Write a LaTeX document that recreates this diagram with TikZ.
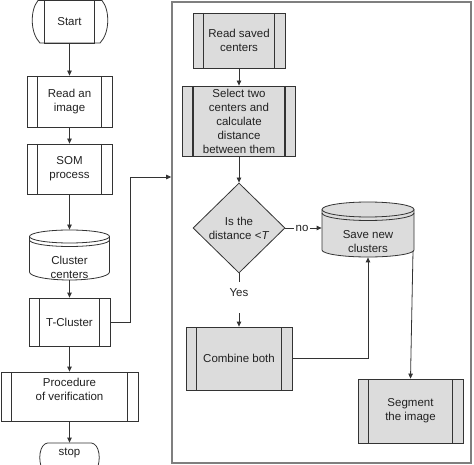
\documentclass[tikz,border=0pt]{standalone}
\usepackage{fontspec}
\setmainfont{Liberation Sans}
\usetikzlibrary{shapes.geometric,arrows.meta}
\definecolor{linec}{HTML}{333333}
\definecolor{boxg}{HTML}{DCDCDC}
\definecolor{framec}{HTML}{7F7F7F}
\definecolor{txt}{HTML}{222222}
\begin{document}
\begin{tikzpicture}[x=1pt,y=-1pt, font=\fontsize{11.5}{14}\selectfont, text=txt,
  line width=0.8pt,
  arr/.style={draw=linec, -{Triangle[length=5pt,width=4.5pt]}},
  plain/.style={draw=linec},
  bars/.style={path picture={\draw[line width=#1]
     ([xshift=10.5pt]path picture bounding box.north west) -- ([xshift=10.5pt]path picture bounding box.south west)
     ([xshift=-10.5pt]path picture bounding box.north east) -- ([xshift=-10.5pt]path picture bounding box.south east);}},
  procw/.style={draw=linec, fill=white, inner sep=0pt, align=center, bars=0.8pt},
  procg/.style={draw=linec, fill=boxg, inner sep=0pt, align=center, bars=1.2pt},
  ghost/.style={inner sep=0pt, align=center},
]
\useasboundingbox (0,0) rectangle (474,465);

% frame
\node[draw=framec, line width=1.6pt, minimum width=299pt, minimum height=461pt, inner sep=0pt] (frame) at (321.5,232.5) {};

% Start
\filldraw[draw=linec, fill=white] (38,0.5) -- (102,0.5) .. controls (110,10) and (110,33) .. (100,43) -- (40,43) .. controls (30,33) and (30,10) .. (38,0.5) -- cycle;
\node[draw=linec, minimum width=50pt, minimum height=42.5pt, inner sep=0pt] (start) at (69.5,21.75) {Start};

% left column
\node[procw, minimum width=85pt, minimum height=51pt] (read) at (69.5,101.5) {Read an\\image};
\node[procw, minimum width=85pt, minimum height=50pt] (som) at (69.5,169) {SOM\\process};

% cluster centers cylinder
\node[ghost, minimum width=80pt, minimum height=50pt] (cc) at (69.5,255) {};
\filldraw[draw=linec, fill=white] (29.5,236.5) -- (29.5,272) arc[start angle=180, end angle=360, x radius=40pt, y radius=8pt] -- (109.5,236.5) arc[start angle=0, end angle=180, x radius=40pt, y radius=6.5pt] -- cycle;
\draw[linec] (29.5,236.5) arc[start angle=180, end angle=360, x radius=40pt, y radius=6.5pt];
\draw[linec] (29.5,240) arc[start angle=180, end angle=360, x radius=40pt, y radius=6.5pt];
\node[ghost] (cctext) at (69.5,267.5) {Cluster\\centers};

\node[procw, minimum width=81pt, minimum height=48pt] (tcl) at (69.5,322) {T-Cluster};
\node[procw, minimum width=137pt, minimum height=49pt] (verif) at (69.5,396.5) {Procedure\\of verification\\ };

% stop
\filldraw[draw=linec, fill=white] (47.5,443) -- (91.5,443) .. controls (99.5,444) and (101.5,460) .. (96.5,470) -- (42.5,470) .. controls (37.5,460) and (39.5,444) .. (47.5,443) -- cycle;
\node[ghost, minimum height=20pt] (stop) at (69.5,453) {stop};

% right column
\node[procg, minimum width=92pt, minimum height=55pt] (rsc) at (239,40.5) {Read saved\\centers};
\node[procg, minimum width=113pt, minimum height=70pt] (sel) at (239,121) {Select two\\centers and\\calculate\\distance\\between them};
\node[shape=diamond, draw=linec, fill=boxg, minimum width=92pt, minimum height=90pt, inner sep=0pt, align=center] (dia) at (239,228) {Is the\\distance <\textit{T}};

% save new clusters cylinder
\node[ghost, minimum width=92pt, minimum height=55pt] (save) at (368,229.5) {};
\filldraw[draw=linec, fill=boxg] (322,209.5) -- (322,250) arc[start angle=180, end angle=360, x radius=46pt, y radius=7pt] -- (414,209.5) arc[start angle=0, end angle=180, x radius=46pt, y radius=7.5pt] -- cycle;
\draw[linec] (322,209.5) arc[start angle=180, end angle=360, x radius=46pt, y radius=7.5pt];
\draw[linec] (322,213) arc[start angle=180, end angle=360, x radius=46pt, y radius=7.5pt];
\node[ghost] (savetext) at (368,242) {Save new\\clusters};

\node[procg, minimum width=106pt, minimum height=63pt] (comb) at (239,358.5) {Combine both};
\node[procg, minimum width=105pt, minimum height=64pt] (seg) at (410.5,411) {Segment\\the image};

% labels
\node[ghost, fill=white, inner sep=1.5pt] (no) at (302,228) {no};
\node[ghost, fill=white, minimum height=22pt] (yes) at (239,293) {Yes};

% connectors
\draw[arr] (start.south) -- (read.north);
\draw[arr] (read.south) -- (som.north);
\draw[arr] (som.south) -- (cc.north);
\draw[arr] (cc.south) -- (tcl.north);
\draw[arr] (tcl.south) -- (verif.north);
\draw[arr] (verif.south) -- (stop.north);
\coordinate (bend) at (130,177);
\draw[arr] (tcl.east) -| (bend) -- (bend -| frame.west);

\draw[arr] (rsc.south) -- (sel.north);
\draw[arr] (sel.south) -- (dia.north);
\draw[plain] (dia.east) -- (no.west);
\draw[arr] (no.east) -- (save.west |- no);
\draw[plain] (dia.south) -- (yes.north);
\draw[arr] ([yshift=-9pt]yes.south) -- (comb.north);
\draw[arr] (comb.east) -| (save.south);
\coordinate (sv) at (413,251);
\draw[arr] (sv) -- (seg.north);
\end{tikzpicture}
\end{document}
